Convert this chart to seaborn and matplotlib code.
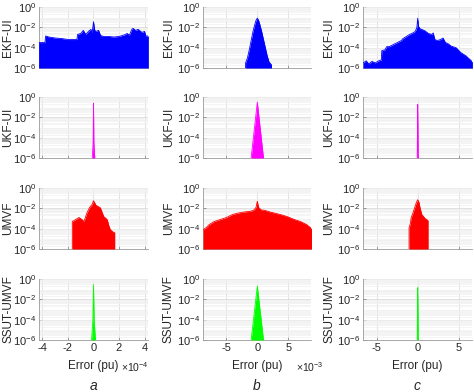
import numpy as np
import pandas as pd
import matplotlib
matplotlib.use("Agg")
import matplotlib.pyplot as plt
import seaborn as sns
from matplotlib.ticker import LogLocator, NullFormatter

# ---------------- data (x in scaled units, y as log10 of probability) ----------------
methods = ["EKF-UI", "UKF-UI", "UMVF", "SSUT-UMVF"]
colors = ["#0000ff", "#ff00ff", "#ff0000", "#00ff00"]
panel_letters = ["a", "b", "c"]
x_limits = [(-4.27, 4.27), (-8.8, 8.7), (-6.7, 6.65)]
x_ticks = [[-4, -2, 0, 2, 4], [-5, 0, 5], [-5, 0, 5]]
x_exponents = ["-4", "-3", None]

# column a (x in 1e-4 pu)
ekf_a_x = [-4.3, -3.8, -3.75, -3.5, -3.0, -2.5, -2.0, -1.5, -1.3, -1.25, -1.0, -0.8, -0.6, -0.4,
           -0.2, -0.1, 0.0, 0.1, 0.2, 0.4, 0.55, 0.8, 1.2, 1.6, 2.0, 2.4, 2.65, 2.8, 3.0, 3.1,
           3.3, 3.5, 3.8, 4.0, 4.1, 4.3]
ekf_a_logy = [-3.5, -3.5, -2.85, -2.95, -3.05, -3.1, -3.2, -3.2, -3.2, -2.7, -2.6, -2.3, -2.7, -2.4,
              -2.2, -2.5, -1.45, -2.3, -2.4, -2.3, -2.8, -2.9, -2.9, -2.95, -2.9, -2.75, -2.6, -2.8, -2.2, -2.1,
              -2.3, -2.2, -2.5, -2.4, -2.85, -2.85]
ukf_a_x = [-0.1, -0.03, 0.0, 0.03, 0.1]
ukf_a_logy = [-6, -4.5, -0.6, -4.5, -6]
umvf_a_x = [-1.66, -1.66, -1.4, -1.14, -0.9, -0.75, -0.5, -0.3, -0.1, 0.0, 0.2, 0.54, 0.8, 1.07,
            1.2, 1.32, 1.5, 1.66, 1.66]
umvf_a_logy = [-6, -3.3, -3.1, -2.9, -3.1, -3.3, -2.4, -1.9, -1.6, -1.25, -1.7, -1.95, -2.8, -3.1,
               -3.7, -4.1, -4.3, -4.4, -6]
ssut_a_x = [-0.15, -0.05, 0.0, 0.05, 0.15]
ssut_a_logy = [-6, -4.0, -0.55, -4.0, -6]

# column b (x in 1e-3 pu)
ekf_b_x = [-1.9, -1.9, -1.6, -1.3, -1.0, -0.7, -0.4, -0.2, 0.0, 0.2, 0.4, 0.7, 1.0, 1.3, 1.6,
           1.9, 2.3, 2.3]
ekf_b_logy = [-6, -5.5, -5.0, -4.2, -3.3, -2.4, -1.7, -1.3, -1.1, -1.3, -1.7, -2.4, -3.2, -4.0, -4.8,
              -5.4, -5.7, -6]
ukf_b_x = [-1.0, 0.0, 1.0]
ukf_b_logy = [-6, -0.5, -6]
umvf_b_x = [-8.8, -8.3, -7.8, -7.0, -6.0, -5.0, -4.0, -3.0, -2.0, -1.2, -0.6, -0.2, 0.0, 0.2, 0.6,
            1.2, 2.0, 3.0, 4.0, 5.0, 6.0, 7.0, 8.0, 8.8]
umvf_b_logy = [-4.1, -3.9, -3.6, -3.3, -3.1, -2.9, -2.6, -2.45, -2.35, -2.3, -2.2, -1.9, -1.3, -1.9, -2.15,
               -2.2, -2.35, -2.5, -2.65, -2.85, -3.1, -3.3, -3.6, -4.0]
ssut_b_x = [-1.0, 0.0, 1.0]
ssut_b_logy = [-6, -0.7, -6]

# column c (x in pu)
ekf_c_x = [-6.7, -6.3, -6.0, -5.6, -5.2, -4.8, -4.45, -4.4, -4.0, -3.8, -3.5, -3.0, -2.5, -2.0,
           -1.8, -1.4, -1.0, -0.6, -0.3, -0.1, 0.0, 0.1, 0.3, 0.5, 0.9, 1.3, 1.7, 1.9, 2.1, 2.4,
           2.8, 3.1, 3.4, 3.7, 4.1, 4.7, 5.3, 5.9, 6.3, 6.7]
ekf_c_logy = [-5.5, -5.3, -5.6, -5.35, -5.5, -5.3, -5.2, -4.3, -4.2, -3.9, -3.9, -3.7, -3.5, -3.3,
              -3.1, -2.9, -2.7, -2.55, -2.4, -2.0, -1.1, -1.9, -2.15, -2.2, -2.35, -2.6, -2.7, -2.55, -3.2, -3.3,
              -3.2, -3.05, -3.5, -3.6, -3.85, -4.0, -4.5, -4.8, -5.1, -5.4]
ukf_c_x = [-0.06, -0.03, 0.0, 0.03, 0.06]
ukf_c_logy = [-6, -3.0, -0.73, -3.0, -6]
umvf_c_x = [-1.06, -1.06, -0.9, -0.8, -0.6, -0.4, -0.2, 0.0, 0.15, 0.3, 0.5, 0.7, 0.9, 1.1, 1.26, 1.26]
umvf_c_logy = [-6, -3.9, -3.5, -2.9, -2.5, -2.0, -1.5, -1.15, -1.4, -2.0, -2.6, -2.8, -3.0, -3.1, -3.2, -6]
ssut_c_x = [-0.06, -0.03, 0.0, 0.03, 0.06]
ssut_c_logy = [-6, -2.5, -0.85, -2.5, -6]

panels = [
    [(ekf_a_x, ekf_a_logy), (ekf_b_x, ekf_b_logy), (ekf_c_x, ekf_c_logy)],
    [(ukf_a_x, ukf_a_logy), (ukf_b_x, ukf_b_logy), (ukf_c_x, ukf_c_logy)],
    [(umvf_a_x, umvf_a_logy), (umvf_b_x, umvf_b_logy), (umvf_c_x, umvf_c_logy)],
    [(ssut_a_x, ssut_a_logy), (ssut_b_x, ssut_b_logy), (ssut_c_x, ssut_c_logy)],
]

# ---------------- style ----------------
sns.set_theme(style="whitegrid")
plt.rcParams["font.family"] = ["Liberation Sans", "DejaVu Sans"]
plt.rcParams["mathtext.default"] = "regular"
plt.rcParams["axes.unicode_minus"] = False

W, H = 474, 392
fig = plt.figure(figsize=(W / 100, H / 100), dpi=100)
fig.patch.set_facecolor("white")

col_left = [39, 203, 363]
col_width = [109, 108, 109]
label_x = [-0.225, -0.26, -0.255]
row_top = [7, 97, 188, 279]
row_h = 61
text_col = "#262626"

for r in range(4):
    for c in range(3):
        ax = fig.add_axes([col_left[c] / W, 1 - (row_top[r] + row_h) / H, col_width[c] / W, row_h / H])
        xs, ly = panels[r][c]
        df = pd.DataFrame({"x": xs, "y": np.power(10.0, np.array(ly, dtype=float))})
        ax.set_yscale("log")
        ax.fill_between(df["x"], 1e-6, df["y"], color=colors[r], lw=0, zorder=3)
        sns.lineplot(data=df, x="x", y="y", ax=ax, color=colors[r], lw=0.6,
                     estimator=None, sort=False, zorder=4)
        ax.set_ylim(1e-6, 1)
        ax.set_xlim(*x_limits[c])
        ax.set_yticks([1e-6, 1e-4, 1e-2, 1])
        ax.yaxis.set_minor_locator(LogLocator(base=10, subs=np.arange(2, 10), numticks=20))
        ax.yaxis.set_minor_formatter(NullFormatter())
        ax.set_xticks(x_ticks[c])
        ax.set_facecolor("white")
        ax.grid(True, which="major", color="#dcdcdc", lw=0.6, zorder=0)
        ax.grid(True, which="minor", axis="y", color="#f0f0f0", lw=0.5, zorder=0)
        ax.tick_params(axis="both", which="major", direction="in", length=2.5, width=0.6,
                       color="#888888", labelsize=8, labelcolor=text_col, pad=2,
                       bottom=True, left=True)
        ax.tick_params(axis="y", which="minor", left=False)
        for s in ["top", "right"]:
            ax.spines[s].set_visible(False)
        for s in ["left", "bottom"]:
            ax.spines[s].set_color("#9a9a9a")
            ax.spines[s].set_linewidth(0.6)
        ax.set_ylabel(methods[r], fontsize=8.5, color=text_col)
        ax.yaxis.set_label_coords(label_x[c], 0.5)
        if r < 3:
            ax.set_xticklabels([])
            ax.set_xlabel("")
        else:
            ax.set_xticklabels([str(t) for t in x_ticks[c]])
            ax.set_xlabel("Error (pu)", fontsize=8.5, color=text_col, labelpad=5)

# exponent annotations and panel letters
exp_x = [121, 296]
for c in range(2):
    fig.text(exp_x[c] / W, 1 - 372 / H, r"$\times 10^{%s}$" % x_exponents[c],
             fontsize=7.5, color=text_col, va="baseline", ha="left")
for c in range(3):
    cx = (col_left[c] + col_width[c] / 2) / W
    fig.text(cx, 1 - 386 / H, panel_letters[c], fontsize=10, style="italic",
             color=text_col, ha="center", va="center")

fig.savefig("out.png", dpi=100, facecolor="white")
